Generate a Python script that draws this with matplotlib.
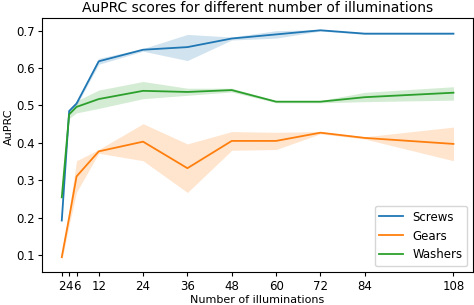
import matplotlib
matplotlib.use("Agg")
import matplotlib.pyplot as plt

illuminations = [2, 4, 6, 12, 24, 36, 48, 60, 72, 84, 108]

screws = [0.192, 0.485, 0.505, 0.618, 0.649, 0.656, 0.679, 0.690, 0.701, 0.692, 0.692]
screws_lo = [0.190, 0.480, 0.500, 0.610, 0.645, 0.620, 0.675, 0.680, 0.699, 0.690, 0.690]
screws_hi = [0.194, 0.490, 0.510, 0.626, 0.652, 0.690, 0.683, 0.700, 0.703, 0.694, 0.694]

gears = [0.094, 0.200, 0.310, 0.377, 0.403, 0.332, 0.405, 0.405, 0.427, 0.413, 0.397]
gears_lo = [0.085, 0.180, 0.268, 0.372, 0.352, 0.267, 0.380, 0.382, 0.424, 0.410, 0.352]
gears_hi = [0.103, 0.220, 0.352, 0.382, 0.451, 0.397, 0.430, 0.428, 0.430, 0.416, 0.442]

washers = [0.254, 0.476, 0.496, 0.517, 0.539, 0.536, 0.541, 0.510, 0.510, 0.522, 0.534]
washers_lo = [0.250, 0.465, 0.480, 0.492, 0.518, 0.527, 0.536, 0.507, 0.507, 0.510, 0.514]
washers_hi = [0.258, 0.487, 0.512, 0.541, 0.564, 0.546, 0.546, 0.513, 0.513, 0.535, 0.550]

series = [
    ("Screws", screws, screws_lo, screws_hi, "tab:blue"),
    ("Gears", gears, gears_lo, gears_hi, "tab:orange"),
    ("Washers", washers, washers_lo, washers_hi, "tab:green"),
]

fig = plt.figure(figsize=(4.74, 3.05), dpi=100)
ax = fig.add_axes([0.089, 0.108, 0.909, 0.833])

for name, mean, lo, hi, color in series:
    ax.fill_between(illuminations, lo, hi, color=color, alpha=0.2, linewidth=0)
    ax.plot(illuminations, mean, color=color, linewidth=1.3, label=name)

ax.set_xticks(illuminations)
ax.set_xticklabels([2, 4, 6, 12, 24, 36, 48, 60, 72, 84, 108])
ax.tick_params(labelsize=8.5, length=3, pad=2.5)
ax.set_yticks([0.1, 0.2, 0.3, 0.4, 0.5, 0.6, 0.7])
ax.set_title("AuPRC scores for different number of illuminations", fontsize=10, pad=4)
ax.set_xlabel("Number of illuminations", fontsize=8, labelpad=2)
ax.set_ylabel("AuPRC", fontsize=8)
ax.yaxis.set_label_coords(-0.066, 0.57)
ax.legend(loc="lower right", fontsize=8.5)

fig.savefig("out.png", dpi=100)
